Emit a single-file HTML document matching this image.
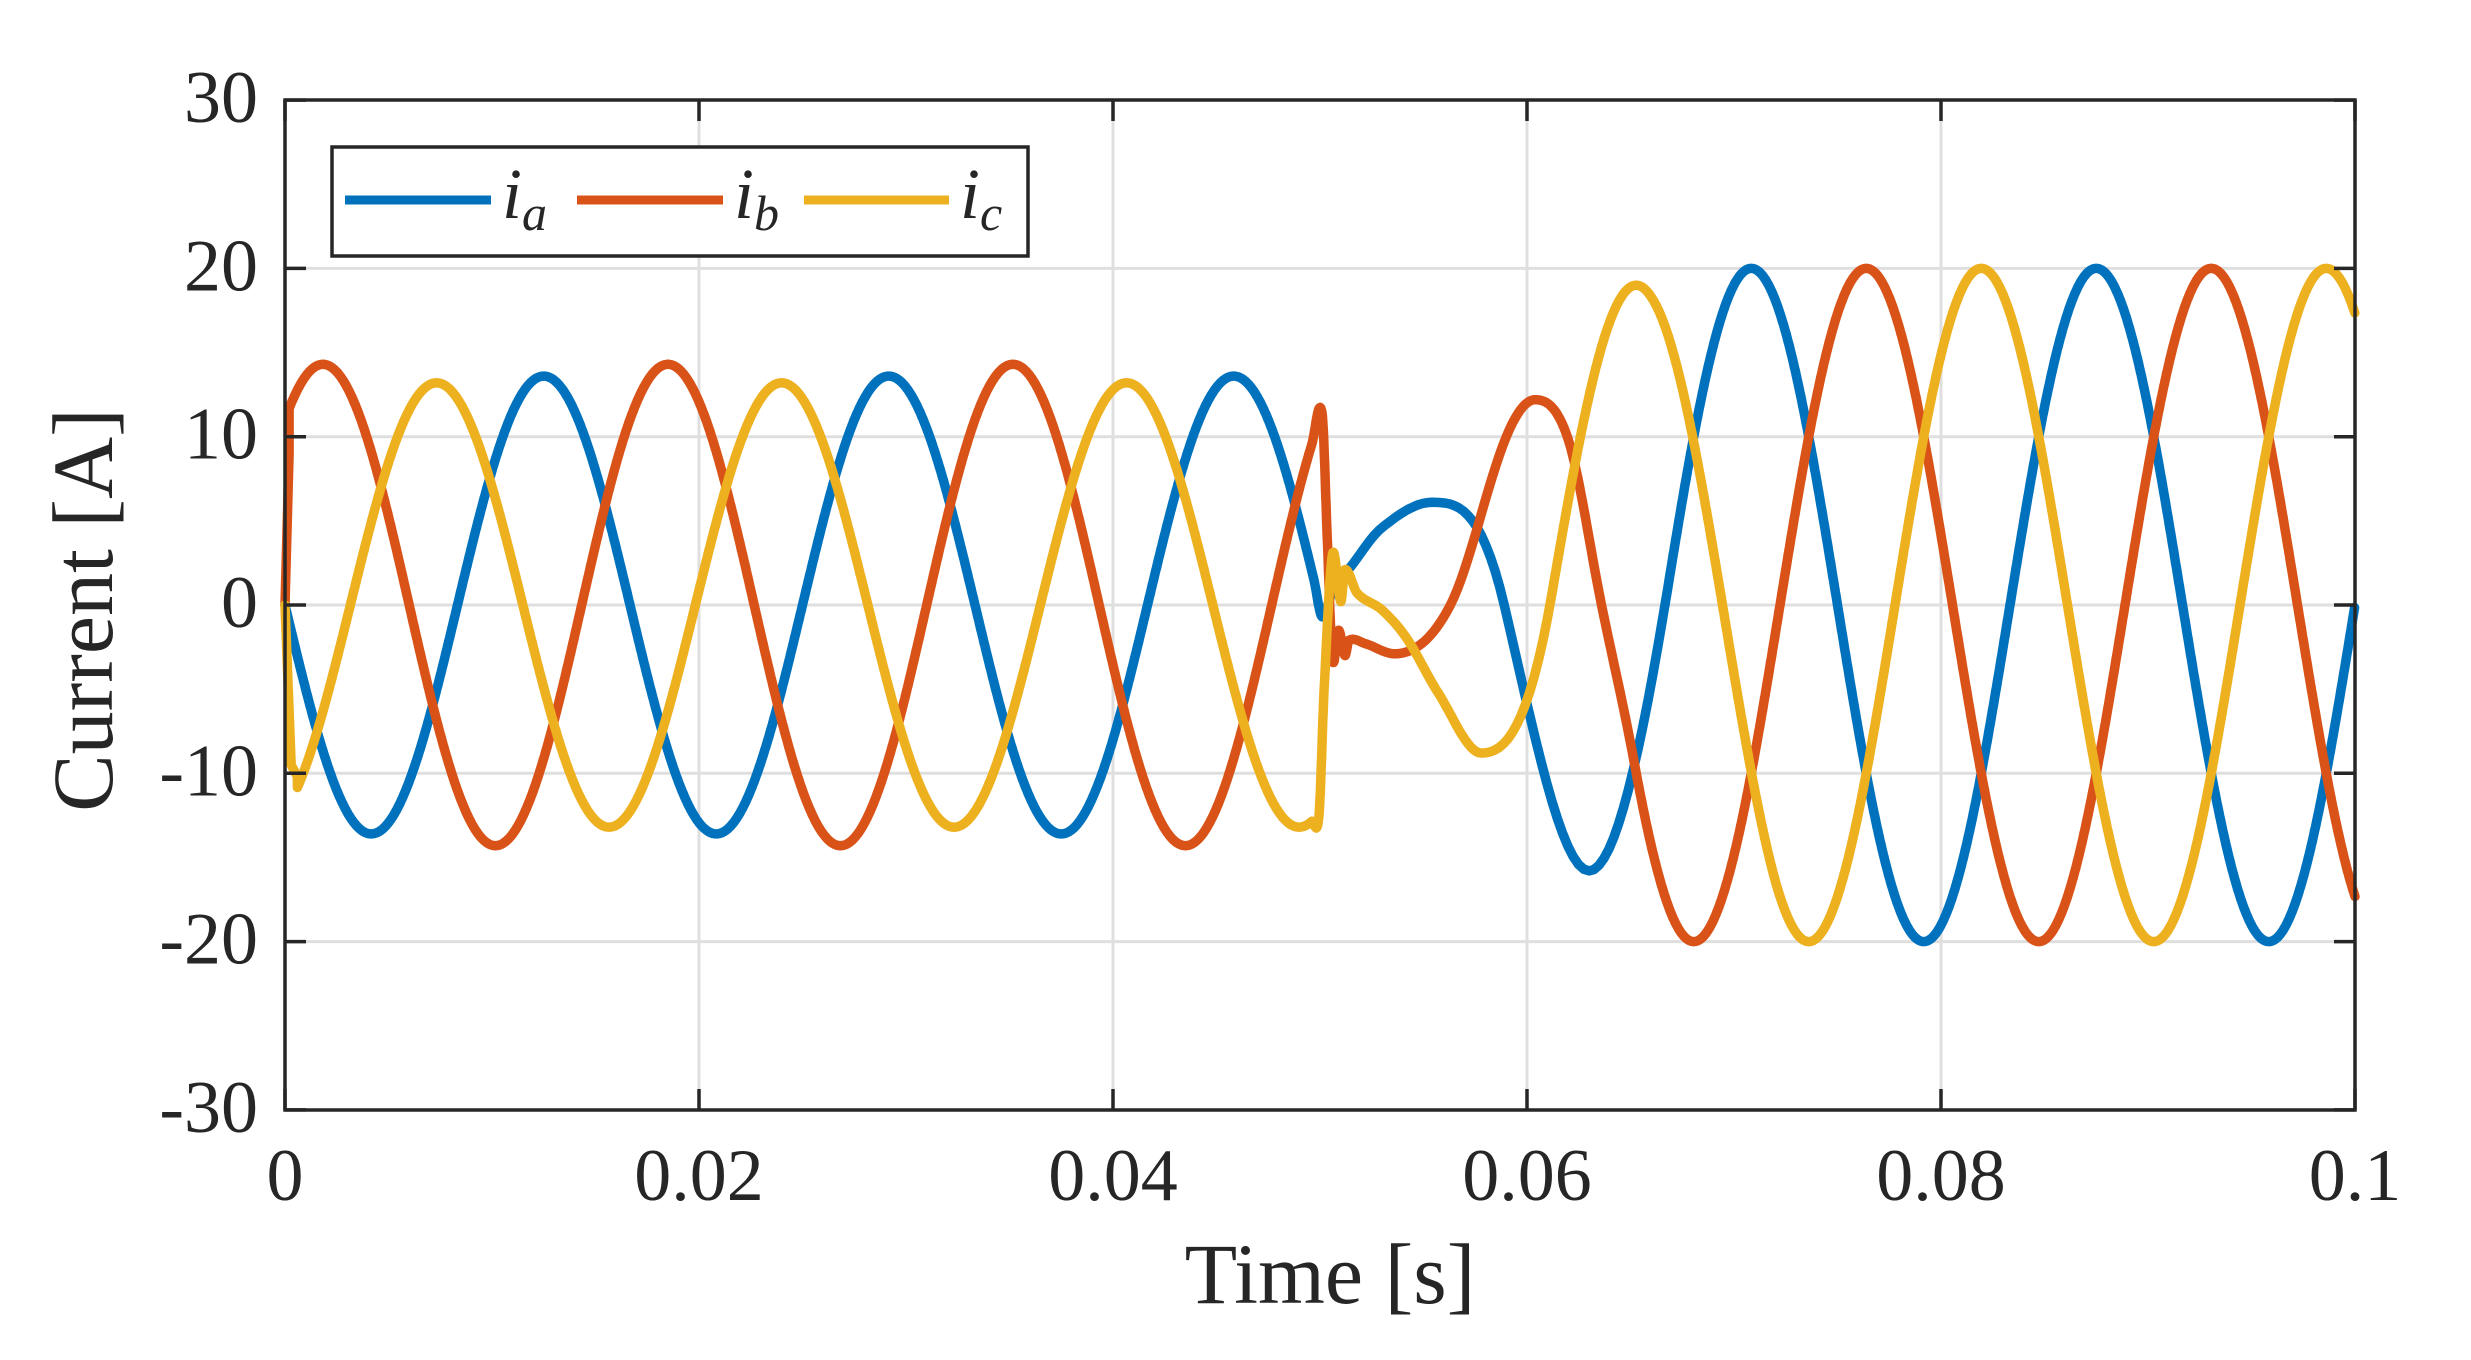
<!DOCTYPE html>
<html><head><meta charset="utf-8"><style>
html,body{margin:0;padding:0;background:#fff;}
svg{display:block;}
text{font-family:"Liberation Serif",serif;fill:#262626;}
</style></head><body>
<svg id="s" width="2471" height="1360" viewBox="0 0 2471 1360" xmlns="http://www.w3.org/2000/svg">
<rect width="2471" height="1360" fill="#fff"/>
<g id="grid" stroke="#dfdfdf" stroke-width="3"></g>
<g id="curves" fill="none" stroke-width="9.5" stroke-linejoin="round" stroke-linecap="round"></g>
<g id="axes" stroke="#262626" stroke-width="3.5" fill="none"></g>
<g id="labels" font-size="74"></g>
<text x="1330" y="1303" font-size="86" text-anchor="middle">Time [s]</text>
<text transform="translate(112,610) rotate(-90)" font-size="86" text-anchor="middle">Current [A]</text>
<g>
<rect x="332" y="147" width="696" height="109" fill="#fff" stroke="#262626" stroke-width="3.5"/>
<line x1="345" y1="200" x2="491" y2="200" stroke="#0072BD" stroke-width="9"/>
<line x1="577" y1="200" x2="723" y2="200" stroke="#D95319" stroke-width="9"/>
<line x1="804" y1="200" x2="949" y2="200" stroke="#EDB120" stroke-width="9"/>
<text x="502" y="218" font-size="72" font-style="italic" fill="#000">i<tspan font-size="50" dy="12">a</tspan></text>
<text x="734" y="218" font-size="72" font-style="italic" fill="#000">i<tspan font-size="50" dy="12">b</tspan></text>
<text x="960" y="218" font-size="72" font-style="italic" fill="#000">i<tspan font-size="50" dy="12">c</tspan></text>
</g>
</svg>
<script>
(function(){
var NS="http://www.w3.org/2000/svg";
var L=285,R=2355,T=100,B=1110;
var X=function(t){return L+t*20700;};
var Y=function(v){return 605-v*16.83;};
function el(p,n,a){var e=document.createElementNS(NS,n);for(var k in a)e.setAttribute(k,a[k]);p.appendChild(e);return e;}
var g=document.getElementById('grid'),ax=document.getElementById('axes'),lb=document.getElementById('labels');
var xt=[0,0.02,0.04,0.06,0.08,0.1],xl=["0","0.02","0.04","0.06","0.08","0.1"];
for(var i=0;i<xt.length;i++){var x=X(xt[i]);
 if(i>0&&i<5)el(g,'line',{x1:x,y1:T,x2:x,y2:B});
 el(ax,'line',{x1:x,y1:B,x2:x,y2:B-21});el(ax,'line',{x1:x,y1:T,x2:x,y2:T+21});
 var t=el(lb,'text',{x:x,y:1200,'text-anchor':'middle'});t.textContent=xl[i];}
for(var v=-30;v<=30;v+=10){var y=Y(v);
 if(v>-30&&v<30)el(g,'line',{x1:L,y1:y,x2:R,y2:y});
 el(ax,'line',{x1:L,y1:y,x2:L+21,y2:y});el(ax,'line',{x1:R,y1:y,x2:R-21,y2:y});
 var t=el(lb,'text',{x:258,y:y+22,'text-anchor':'end'});t.textContent=String(v);}
el(ax,'rect',{x:L,y:T,width:R-L,height:B-T});
var w=2*Math.PI*60;
function der(f,t){var h=1e-6;return (f(t+h)-f(t-h))/(2*h);}
function build(pre,preEnd,keys,postStart,post,start){
 var pts=[];
 if(start)pts=pts.concat(start);
 var t0=start?start[start.length-1][0]:0;
 for(var t=t0;t<preEnd;t+=0.00003)pts.push([t,pre(t)]);
 var k=[[preEnd,pre(preEnd)]].concat(keys).concat([[postStart,post(postStart)]]);
 var n=k.length,m=[];
 for(var i=0;i<n;i++){
  if(i==0)m.push(der(pre,preEnd));
  else if(i==n-1)m.push(der(post,postStart));
  else if(k[i].length>2)m.push(k[i][2]);
  else m.push((k[i+1][1]-k[i-1][1])/(k[i+1][0]-k[i-1][0]));
 }
 for(var i=0;i<n-1;i++){
  var h=k[i+1][0]-k[i][0];
  for(var s=0;s<16;s++){var u=s/16,u2=u*u,u3=u2*u;
   var y=(2*u3-3*u2+1)*k[i][1]+(u3-2*u2+u)*h*m[i]+(-2*u3+3*u2)*k[i+1][1]+(u3-u2)*h*m[i+1];
   pts.push([k[i][0]+u*h,y]);}
 }
 for(var t=postStart;t<=0.1000001;t+=0.00003)pts.push([t,post(t)]);
 var d="";for(var i=0;i<pts.length;i++){var tt=Math.min(Math.max(pts[i][0],0),0.1);d+=(i?"L":"M")+X(tt).toFixed(1)+","+Y(pts[i][1]).toFixed(1);}
 return d;
}
var c=document.getElementById('curves');
var ia=build(function(t){return -13.6*Math.sin(w*t);},0.0497,
 [[0.0501,-0.7],[0.0506,0.8],[0.0515,2.3],[0.053,4.6],[0.0554,6.1,0],[0.0589,0,-5200],[0.063,-15.8,0]],
 0.0668,function(t){return 20*Math.sin(w*t);});
var ib=build(function(t){return 14.3*Math.sin(w*t+0.88);},0.0496,
 [[0.0501,11.4],[0.05035,4],[0.0506,-3.2],[0.0509,-1.5],[0.0512,-3],[0.0514,-2.1],[0.0522,-2.3],[0.0536,-2.9,0],[0.0563,0],[0.059,10],[0.0604,12.2,0],[0.062,9.8],[0.0636,0]],
 0.0652,function(t){return 20*Math.sin(w*t-2.0944);},[[0,0],[0.0002,9]]);
var ic=build(function(t){return 13.2*Math.sin(w*t-1.19);},0.0496,
 [[0.04995,-12.5],[0.0502,-5],[0.0506,3.0],[0.051,0.2],[0.0512,2.1],[0.0518,0.7],[0.053,-0.3],[0.0542,-2],[0.0557,-5.2],[0.0578,-8.8,0]],
 0.0612,function(t){var A=19+Math.min(1,Math.max(0,(t-0.066)/0.006));return A*Math.sin(w*t+2.0944);},[[0,0],[0.0003,-9.5],[0.0006,-10.2]]);
el(c,'path',{d:ia,stroke:'#0072BD'});
el(c,'path',{d:ib,stroke:'#D95319'});
el(c,'path',{d:ic,stroke:'#EDB120'});
})();
</script>
</body></html>
